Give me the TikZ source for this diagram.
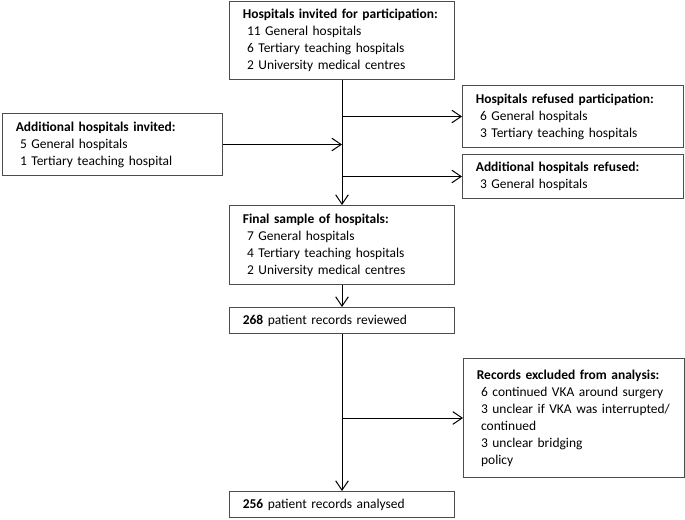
\documentclass[tikz,border=0pt]{standalone}
\usepackage{fontspec}
\setmainfont{Carlito}
\usetikzlibrary{arrows.meta}
\begin{document}
\begin{tikzpicture}[x=0.75pt,y=-0.75pt,
  box/.style={draw=black!70, line width=0.75pt, anchor=north west, align=left,
    inner xsep=10pt, inner ysep=0pt, font=\fontsize{10.1pt}{12.75pt}\selectfont},
  arr/.style={draw=black, line width=0.75pt, -{Straight Barb[length=7pt,width=9.5pt,line width=0.75pt]}},
  ln/.style={draw=black, line width=0.75pt}]
\useasboundingbox (0,0) rectangle (685,520);
\newcommand{\ind}{\hspace*{3.2pt}}
\node[box, text width=148.75pt, minimum height=58.5pt] (invited) at (229,1)
  {\textbf{Hospitals invited for participation:}\\
   \ind 11 General hospitals\\
   \ind 6 Tertiary teaching hospitals\\
   \ind 2 University medical centres};
\node[box, text width=145.75pt, minimum height=46.5pt] (refused) at (462,85)
  {\textbf{Hospitals refused participation:}\\
   \ind 6 General hospitals\\
   \ind 3 Tertiary teaching hospitals};
\node[box, text width=145.75pt, minimum height=33pt] (addref) at (462,154)
  {\textbf{Additional hospitals refused:}\\
   \ind 3 General hospitals};
\node[box, text width=145pt, minimum height=46.5pt] (addinv) at (2,113)
  {\textbf{Additional hospitals invited:}\\
   \ind 5 General hospitals\\
   \ind 1 Tertiary teaching hospital};
\node[box, text width=148.75pt, minimum height=59.25pt] (final) at (229,205)
  {\textbf{Final sample of hospitals:}\\
   \ind 7 General hospitals\\
   \ind 4 Tertiary teaching hospitals\\
   \ind 2 University medical centres};
\node[box, text width=148.75pt, minimum height=19.5pt] (reviewed) at (229,307)
  {\textbf{268} patient records reviewed};
\node[box, text width=145.75pt, minimum height=89.25pt] (excl) at (463,358)
  {\textbf{Records excluded from analysis:}\\
   \ind 6 continued VKA around surgery\\
   \ind 3 unclear if VKA was interrupted/\\
   \ind continued\\
   \ind 3 unclear bridging\\
   \ind policy};
\node[box, text width=148.75pt, minimum height=19.5pt] (analysed) at (229,491)
  {\textbf{256} patient records analysed};
% connectors
\draw[arr] (invited.south) -- (final.north);
\draw[arr] (invited.south |- refused.west) -- (refused.west);
\draw[arr] (invited.south |- addref.west) -- (addref.west);
\draw[arr] (addinv.east) -- (addinv.east -| invited.south);
\draw[arr] (final.south) -- (reviewed.north);
\draw[arr] (reviewed.south) -- (analysed.north);
\draw[arr] (reviewed.south |- excl.west) -- (excl.west);
\end{tikzpicture}
\end{document}
